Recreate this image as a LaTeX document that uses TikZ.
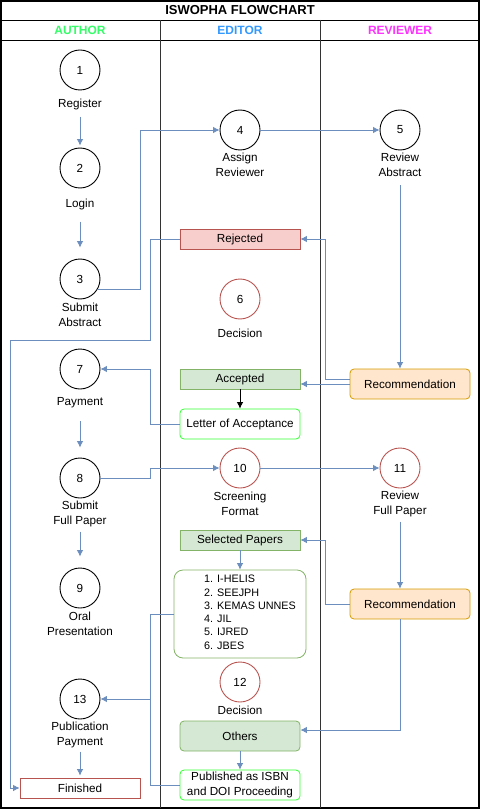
\documentclass[tikz,border=0pt]{standalone}
\usepackage{fontspec}
\setmainfont{Liberation Sans}
\usetikzlibrary{arrows.meta}
\definecolor{edgeblue}{HTML}{6C8EBF}
\definecolor{redline}{HTML}{B85450}
\definecolor{redfill}{HTML}{F8CECC}
\definecolor{greenline}{HTML}{82B366}
\definecolor{greenfill}{HTML}{D5E8D4}
\definecolor{orangeline}{HTML}{D79B00}
\definecolor{orangefill}{HTML}{FFE6CC}
\definecolor{brightgreen}{HTML}{33FF33}
\definecolor{authorcol}{HTML}{33FF66}
\definecolor{editorcol}{HTML}{3399FF}
\definecolor{reviewercol}{HTML}{FF33FF}

\begin{document}
\begin{tikzpicture}[x=1pt,y=-1pt,font=\fontsize{11.7}{15}\selectfont,
		every node/.style={inner sep=0pt,anchor=center},
		num/.style={circle,draw=black,line width=0.9pt,minimum size=40pt},
		numred/.style={num,draw=redline},
		lbl/.style={align=center},
		head/.style={font=\fontsize{12}{15}\selectfont\bfseries},
		box/.style={draw,line width=0.8pt,minimum width=120pt,minimum height=20pt},
		rbox/.style={box,rounded corners=4pt,minimum height=30pt},
		flow/.style={draw=edgeblue,line width=0.8pt,-{Latex[length=6.5pt,width=6.5pt]}},
		plain/.style={draw=edgeblue,line width=0.8pt}]
	\useasboundingbox (0,0) rectangle (480,810);
	
	% frame and lanes
	\draw[line width=1.2pt] (1,1) rectangle (479,808);
	\draw[line width=0.8pt] (1,20) -- (479,20) (1,40) -- (479,40);
	\draw[line width=0.8pt,black!80] (160,20) -- (160,808) (320,20) -- (320,808);
	\node[font=\fontsize{13}{15}\selectfont\bfseries] (title) at (240,10.5) {ISWOPHA FLOWCHART};
	\node[head,text=authorcol] (hauthor) at (80,30.5) {AUTHOR};
	\node[head,text=editorcol] (heditor) at (240,30.5) {EDITOR};
	\node[head,text=reviewercol] (hreviewer) at (400,30.5) {REVIEWER};
	
	% author lane
	\node[num] (c1) at (80,70) {1};
	\node[lbl] (t1) at (80,104) {Register};
	\node[num] (c2) at (80,168) {2};
	\node[lbl] (t2) at (80,204) {Login};
	\node[num] (c3) at (80,279) {3};
	\node[lbl] (t3) at (80,314.5) {Submit\\Abstract};
	\node[num] (c7) at (80,369) {7};
	\node[lbl] (t7) at (80,403) {Payment};
	\node[num] (c8) at (80,478) {8};
	\node[lbl] (t8) at (80,513.5) {Submit\\Full Paper};
	\node[num] (c9) at (80,588) {9};
	\node[lbl] (t9) at (80,623.5) {Oral\\Presentation};
	\node[num] (c13) at (80,699) {13};
	\node[lbl] (t13) at (80,734.5) {Publication\\Payment};
	\node[box,draw=redline] (fin) at (80,788) {Finished};
	
	% editor lane
	\node[num] (c4) at (240,130) {4};
	\node[lbl] (t4) at (240,164.5) {Assign\\Reviewer};
	\node[box,draw=redline,fill=redfill] (rej) at (240,239) {Rejected};
	\node[numred] (c6) at (240,299) {6};
	\node[lbl] (t6) at (240,333) {Decision};
	\node[box,draw=greenline,fill=greenfill] (acc) at (240,379) {Accepted};
	\node[rbox,draw=brightgreen] (loa) at (240,424) {Letter of Acceptance};
	\node[numred] (c10) at (240,468) {10};
	\node[lbl] (t10) at (240,503.5) {Screening\\Format};
	\node[box,draw=greenline,fill=greenfill] (sel) at (240,540) {Selected Papers};
	\node[draw=greenline,line width=0.8pt,rounded corners=9pt,minimum width=132pt,minimum height=88pt] (jrnl) at (240,614) {};
	\node[align=left,anchor=north west,font=\fontsize{10.8}{13.3}\selectfont] (jlist) at (204,575) {1. I-HELIS\\2. SEEJPH\\3. KEMAS UNNES\\4. JIL\\5. IJRED\\6. JBES};
	\node[numred] (c12) at (240,682) {12};
	\node[lbl] (t12) at (240,710) {Decision};
	\node[rbox,draw=greenline,fill=greenfill] (oth) at (240,736) {Others};
	\node[rbox,draw=brightgreen,align=center] (pub) at (240,785) {Published as ISBN\\and DOI Proceeding};
	
	% reviewer lane
	\node[num] (c5) at (400,130) {5};
	\node[lbl] (t5) at (400,164.5) {Review\\Abstract};
	\node[rbox,draw=orangeline,fill=orangefill] (rec1) at (410,384) {Recommendation};
	\node[numred] (c11) at (400,468) {11};
	\node[lbl] (t11) at (400,503.5) {Review\\Full Paper};
	\node[rbox,draw=orangeline,fill=orangefill] (rec2) at (410,604) {Recommendation};
	
	% connectors
	\draw[flow,shorten <=7pt,shorten >=2pt] (t1) -- (c2);
	\draw[flow,shorten <=12pt,shorten >=11pt] (t2) -- (c3);
	\draw[flow,shorten <=13pt,shorten >=10pt] (t7) -- (c8);
	\draw[flow,shorten <=5pt,shorten >=11pt] (t8) -- (c9);
	\draw[flow,shorten <=4pt,shorten >=2pt] (t13) -- (fin);
	\draw[flow] (c3.-30) -| (140,130) -- (c4);
	\draw[flow] (c4) -- (c5);
	\draw[flow,shorten <=9pt] (t5) -- (t5 |- rec1.north);
	\draw[flow] ([yshift=5pt]rec1.west) -| (325,239) -- (rej.east);
	\draw[flow] (rec1.west) -- (rec1.west -| acc.east);
	\draw[flow] (rej.west) -| (150,340) -| (10,788) -- (fin.west);
	\draw[-{Latex[length=6.5pt,width=6.5pt]},line width=0.8pt] (acc) -- (loa);
	\draw[flow] (loa.west) -| (150,369) -- (c7);
	\draw[flow] (c8.east) -| (150,468) -- (c10);
	\draw[flow] (c10) -- (c11);
	\draw[flow,shorten <=5pt] (t11) -- (t11 |- rec2.north);
	\draw[flow] (rec2.west) -| (325,540) -- (sel.east);
	\draw[flow] (sel) -- (jrnl);
	\draw[flow] (rec2.south -| t11) |- ([yshift=6pt]oth.east);
	\draw[flow] (oth) -- (pub);
	\draw[flow] (jrnl.west) -| (150,699) -- (c13);
	\draw[plain] (pub.west) -| (150,699);
\end{tikzpicture}
\end{document}
